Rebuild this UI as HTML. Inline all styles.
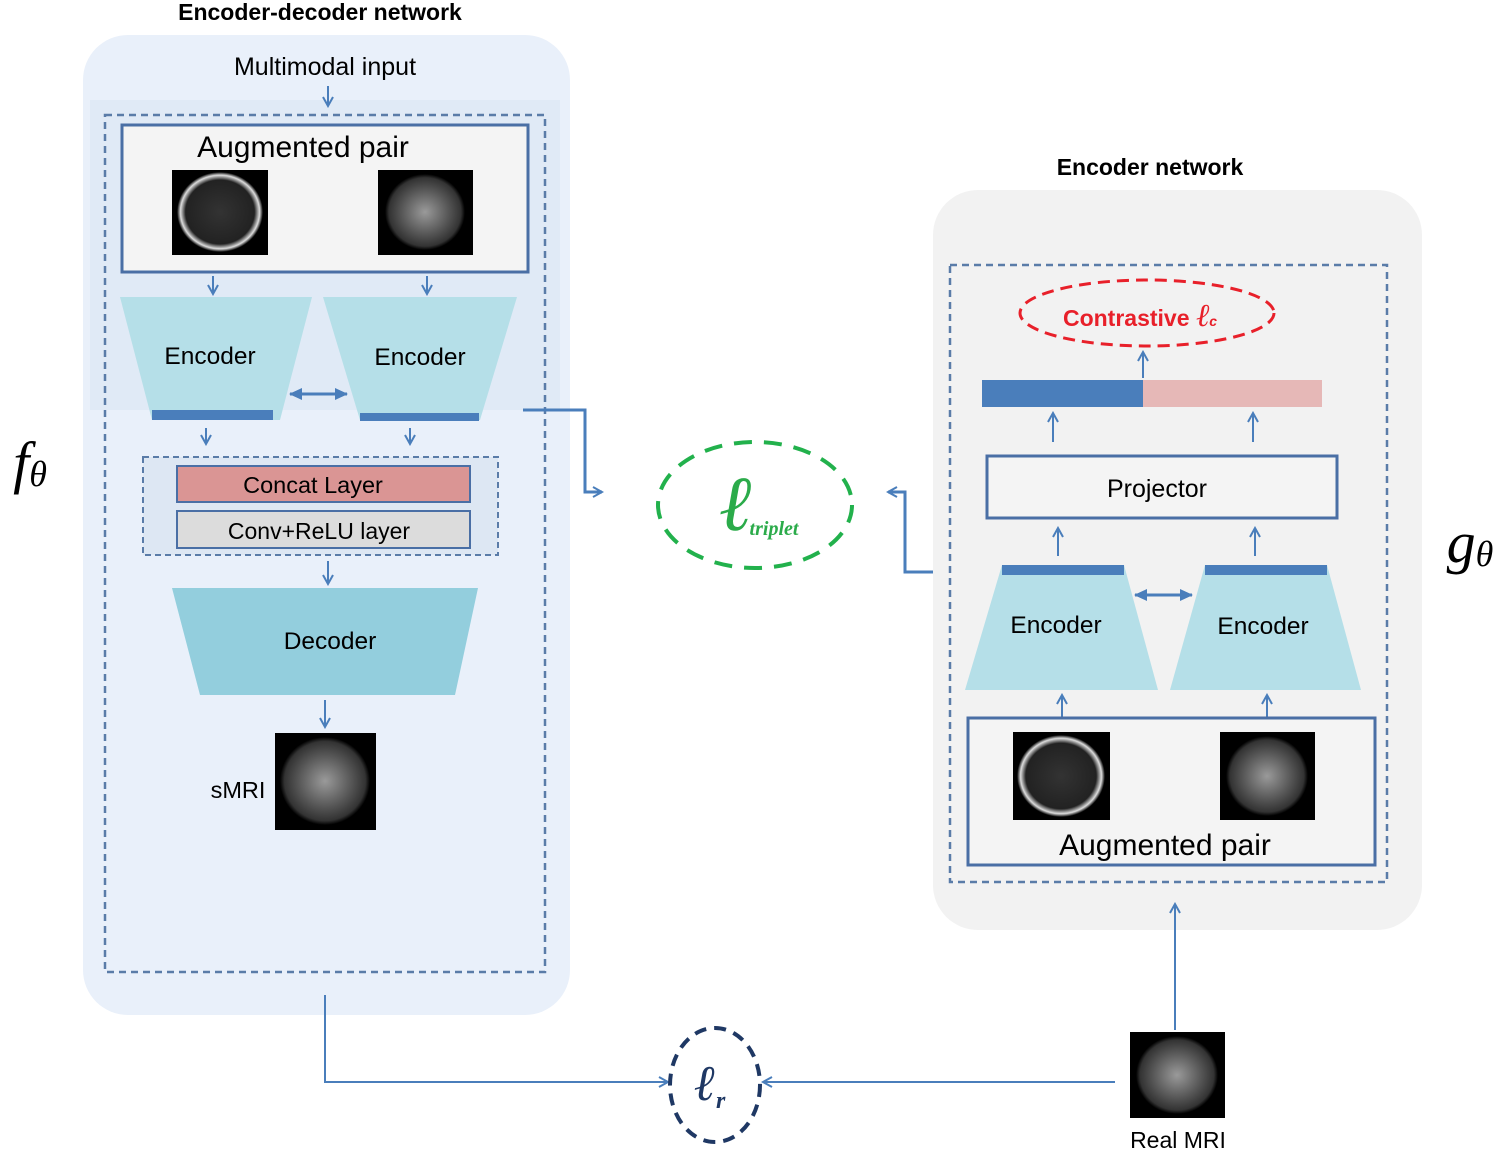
<!DOCTYPE html>
<html><head><meta charset="utf-8"><style>
html,body{margin:0;padding:0;background:#fff;}
svg{display:block;font-family:"Liberation Sans",sans-serif;}
</style></head><body>
<svg width="1500" height="1150" viewBox="0 0 1500 1150" xmlns="http://www.w3.org/2000/svg">
<defs>
<radialGradient id="br" cx="50%" cy="50%" r="50%">
<stop offset="0" stop-color="#9a9a9a"/><stop offset="0.6" stop-color="#555"/><stop offset="0.9" stop-color="#333"/><stop offset="1" stop-color="#000"/>
</radialGradient>
<radialGradient id="br2" cx="50%" cy="50%" r="50%">
<stop offset="0" stop-color="#333"/><stop offset="0.8" stop-color="#222"/><stop offset="0.92" stop-color="#ddd"/><stop offset="1" stop-color="#000"/>
</radialGradient>
<marker id="ah" markerWidth="12" markerHeight="12" refX="10" refY="6" orient="auto" markerUnits="userSpaceOnUse"><path d="M1,1 L10,6 L1,11" fill="none" stroke="#4a7ebb" stroke-width="2"/></marker>
<marker id="af" markerWidth="14" markerHeight="14" refX="12" refY="7" orient="auto-start-reverse" markerUnits="userSpaceOnUse"><path d="M0,1 L13,7 L0,13 Z" fill="#4a7ebb"/></marker>
</defs>

<!-- Left panel -->
<text x="320" y="20" font-size="23" font-weight="bold" text-anchor="middle">Encoder-decoder network</text>
<rect x="83" y="35" width="487" height="980" rx="45" fill="#e9f0fa"/>
<rect x="90" y="100" width="470" height="310" fill="#e0eaf6"/>
<text x="325" y="75" font-size="25" text-anchor="middle">Multimodal input</text>
<line x1="328" y1="86" x2="328" y2="106" stroke="#4a7ebb" stroke-width="2" marker-end="url(#ah)"/>
<rect x="105" y="115" width="440" height="857" fill="none" stroke="#5a7ca8" stroke-width="2.5" stroke-dasharray="7,5"/>
<rect x="122" y="125" width="406" height="147" fill="#f4f4f4" stroke="#4a6fa5" stroke-width="3"/>
<text x="303" y="157" font-size="30" text-anchor="middle">Augmented pair</text>
<rect x="172" y="170" width="96" height="85" fill="#000"/><ellipse cx="220" cy="212" rx="43" ry="40" fill="url(#br2)"/>
<rect x="378" y="170" width="95" height="85" fill="#000"/><ellipse cx="425" cy="212" rx="40" ry="38" fill="url(#br)"/>
<line x1="213" y1="276" x2="213" y2="294" stroke="#4a7ebb" stroke-width="2" marker-end="url(#ah)"/>
<line x1="427" y1="276" x2="427" y2="294" stroke="#4a7ebb" stroke-width="2" marker-end="url(#ah)"/>
<polygon points="120,297 312,297 280,420 152,420" fill="#b5dfe8"/>
<polygon points="323,297 517,297 480,420 360,420" fill="#b5dfe8"/>
<rect x="152" y="410" width="121" height="10" fill="#4a7ebb"/>
<rect x="360" y="413" width="119" height="8" fill="#4a7ebb"/>
<text x="210" y="364" font-size="24.5" text-anchor="middle">Encoder</text>
<text x="420" y="365" font-size="24.5" text-anchor="middle">Encoder</text>
<line x1="290" y1="394" x2="347" y2="394" stroke="#4a7ebb" stroke-width="3" marker-start="url(#af)" marker-end="url(#af)"/>
<line x1="206" y1="428" x2="206" y2="444" stroke="#4a7ebb" stroke-width="2" marker-end="url(#ah)"/>
<line x1="410" y1="428" x2="410" y2="444" stroke="#4a7ebb" stroke-width="2" marker-end="url(#ah)"/>
<rect x="143" y="457" width="355" height="98" fill="#dde7f3" stroke="#5a7ca8" stroke-width="2" stroke-dasharray="6,4"/>
<rect x="177" y="466" width="293" height="36" fill="#da9594" stroke="#4a6fa5" stroke-width="2"/>
<text x="313" y="493" font-size="23.5" text-anchor="middle">Concat Layer</text>
<rect x="177" y="511" width="293" height="37" fill="#dcdcdc" stroke="#4a6fa5" stroke-width="2"/>
<text x="319" y="539" font-size="23" text-anchor="middle">Conv+ReLU layer</text>
<line x1="328" y1="561" x2="328" y2="584" stroke="#4a7ebb" stroke-width="2" marker-end="url(#ah)"/>
<polygon points="172,588 478,588 455,695 200,695" fill="#93cedd"/>
<text x="330" y="649" font-size="24.5" text-anchor="middle">Decoder</text>
<line x1="325" y1="700" x2="325" y2="727" stroke="#4a7ebb" stroke-width="2" marker-end="url(#ah)"/>
<rect x="275" y="733" width="101" height="97" fill="#000"/><ellipse cx="325" cy="781" rx="45" ry="44" fill="url(#br)"/>
<text x="238" y="798" font-size="23.5" text-anchor="middle">sMRI</text>
<text x="30" y="482" font-size="58" font-style="italic" font-family="Liberation Serif,serif" text-anchor="middle">f<tspan font-size="36" dy="4">θ</tspan></text>

<!-- Connectors to triplet -->
<polyline points="523,410 585,410 585,492 602,492" fill="none" stroke="#4a7ebb" stroke-width="3" marker-end="url(#ah)"/>
<ellipse cx="755" cy="505" rx="97" ry="63" fill="none" stroke="#22b14c" stroke-width="4" stroke-dasharray="18,12"/>
<text x="735" y="530" font-size="78" fill="#2bab4a" font-style="italic" font-family="Liberation Serif,serif" text-anchor="middle">ℓ</text>
<text x="774" y="535" font-size="20" fill="#2bab4a" font-style="italic" font-weight="bold" font-family="Liberation Serif,serif" text-anchor="middle">triplet</text>
<polyline points="970,572 905,572 905,492 888,492" fill="none" stroke="#4a7ebb" stroke-width="3" marker-end="url(#ah)"/>

<!-- Right panel -->
<text x="1150" y="175" font-size="23" font-weight="bold" text-anchor="middle">Encoder network</text>
<rect x="933" y="190" width="489" height="740" rx="45" fill="#f2f2f2"/>
<rect x="950" y="265" width="437" height="617" fill="none" stroke="#5a7ca8" stroke-width="2.5" stroke-dasharray="7,5"/>
<ellipse cx="1147" cy="313" rx="127" ry="33" fill="none" stroke="#e8202a" stroke-width="3" stroke-dasharray="12,7"/>
<text x="1140" y="326" font-size="23" font-weight="bold" fill="#e8202a" text-anchor="middle">Contrastive <tspan font-style="italic" font-family="Liberation Serif,serif" font-size="32" font-weight="normal">ℓ</tspan><tspan font-size="14" font-style="italic">c</tspan></text>
<line x1="1143" y1="378" x2="1143" y2="352" stroke="#4a7ebb" stroke-width="2" marker-end="url(#ah)"/>
<rect x="982" y="380" width="161" height="27" fill="#4a7ebb"/>
<rect x="1143" y="380" width="179" height="27" fill="#e6b8b7"/>
<line x1="1053" y1="442" x2="1053" y2="413" stroke="#4a7ebb" stroke-width="2" marker-end="url(#ah)"/>
<line x1="1253" y1="442" x2="1253" y2="413" stroke="#4a7ebb" stroke-width="2" marker-end="url(#ah)"/>
<rect x="987" y="456" width="350" height="62" fill="#f4f4f4" stroke="#4a6fa5" stroke-width="3"/>
<text x="1157" y="497" font-size="25" text-anchor="middle">Projector</text>
<line x1="1058" y1="556" x2="1058" y2="528" stroke="#4a7ebb" stroke-width="2" marker-end="url(#ah)"/>
<line x1="1255" y1="556" x2="1255" y2="528" stroke="#4a7ebb" stroke-width="2" marker-end="url(#ah)"/>
<polygon points="1002,565 1124,565 1158,690 965,690" fill="#b5dfe8"/>
<polygon points="1205,565 1327,565 1361,690 1170,690" fill="#b5dfe8"/>
<rect x="1002" y="565" width="122" height="10" fill="#4a7ebb"/>
<rect x="1205" y="565" width="122" height="10" fill="#4a7ebb"/>
<text x="1056" y="633" font-size="24.5" text-anchor="middle">Encoder</text>
<text x="1263" y="634" font-size="24.5" text-anchor="middle">Encoder</text>
<line x1="1135" y1="595" x2="1192" y2="595" stroke="#4a7ebb" stroke-width="3" marker-start="url(#af)" marker-end="url(#af)"/>
<line x1="1062" y1="717" x2="1062" y2="695" stroke="#4a7ebb" stroke-width="2" marker-end="url(#ah)"/>
<line x1="1267" y1="717" x2="1267" y2="695" stroke="#4a7ebb" stroke-width="2" marker-end="url(#ah)"/>
<rect x="968" y="718" width="407" height="147" fill="#f4f4f4" stroke="#4a6fa5" stroke-width="3"/>
<rect x="1013" y="732" width="97" height="88" fill="#000"/><ellipse cx="1061" cy="776" rx="44" ry="41" fill="url(#br2)"/>
<rect x="1220" y="732" width="95" height="88" fill="#000"/><ellipse cx="1267" cy="776" rx="41" ry="40" fill="url(#br)"/>
<text x="1165" y="855" font-size="30" text-anchor="middle">Augmented pair</text>
<text x="1470" y="562" font-size="58" font-style="italic" font-family="Liberation Serif,serif" text-anchor="middle">g<tspan font-size="36" dy="4">θ</tspan></text>
<line x1="1175" y1="1030" x2="1175" y2="904" stroke="#4a7ebb" stroke-width="2" marker-end="url(#ah)"/>
<rect x="1130" y="1032" width="95" height="86" fill="#000"/><ellipse cx="1177" cy="1075" rx="41" ry="39" fill="url(#br)"/>
<text x="1178" y="1148" font-size="23" text-anchor="middle">Real MRI</text>

<!-- Bottom -->
<polyline points="325,995 325,1082 668,1082" fill="none" stroke="#4a7ebb" stroke-width="2" marker-end="url(#ah)"/>
<line x1="1115" y1="1082" x2="763" y2="1082" stroke="#4a7ebb" stroke-width="2" marker-end="url(#ah)"/>
<ellipse cx="715" cy="1085" rx="45" ry="57" fill="none" stroke="#1f3864" stroke-width="4" stroke-dasharray="12,8"/>
<text x="710" y="1100" font-size="50" font-style="italic" font-weight="bold" fill="#1f3864" font-family="Liberation Serif,serif" text-anchor="middle">ℓ<tspan font-size="24" dy="8">r</tspan></text>
</svg>
</body></html>
